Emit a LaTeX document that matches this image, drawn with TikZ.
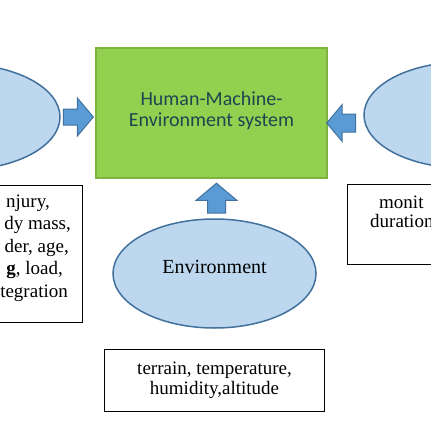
\documentclass[tikz,border=0pt]{standalone}
\usepackage{fontspec}
\setmainfont{Liberation Serif}
\newfontfamily\calibri{Carlito}
\usetikzlibrary{positioning,shapes.geometric,shapes.arrows}
\definecolor{ellfill}{HTML}{BDD7EE}
\definecolor{ellline}{HTML}{41719C}
\definecolor{arrfill}{HTML}{5B9BD5}
\definecolor{sysfill}{HTML}{92D050}
\definecolor{sysline}{HTML}{7EB340}
\definecolor{systext}{HTML}{1C4650}
\tikzset{
  factor/.style={ellipse, draw=ellline, fill=ellfill, line width=1.5bp, inner sep=0pt, minimum width=200bp, minimum height=106bp},
  blockarrow/.style={single arrow, draw=ellline, fill=arrfill, line width=1bp, inner sep=0pt, text height=15bp, text depth=0pt, minimum height=30bp, single arrow head extend=11bp, single arrow tip angle=100},
  listbox/.style={draw=black, line width=1bp, fill=white, inner sep=0pt, align=center, font=\fontsize{19bp}{20bp}\selectfont},
  frag/.style={inner sep=0pt, font=\fontsize{19bp}{20bp}\selectfont}
}

\begin{document}
\begin{tikzpicture}[x=1bp,y=-1bp]
\useasboundingbox (0,0) rectangle (431,431);
\fill[white] (0,0) rectangle (431,431);

\node[draw=sysline, fill=sysfill, line width=1.5bp, minimum width=231bp, minimum height=130bp] (hmes) at (211.5,113) {};
\node[align=center, text=systext, font=\calibri\fontsize{20bp}{21bp}\selectfont] (hmestext) at ([yshift=2.5bp]hmes.center) {Human-Machine-\\Environment system};

\node[factor] (human) at (-40,117) {};
\node[factor] (machine) at (464,115) {};
\node[factor, minimum width=203bp, minimum height=109bp, text depth=13bp, font=\fontsize{20bp}{22bp}\selectfont] (env) at (214.5,273.5) {Environment};

\node[blockarrow] (arrH) at (75,117) {};
\node[blockarrow, rotate=180, text height=17bp, minimum height=29bp, single arrow head extend=9.5bp] (arrM) at (345,123) {};
\node[blockarrow, rotate=90, text height=17bp, single arrow head extend=11.5bp] (arrE) at (216.5,202) {};

\node[listbox, minimum width=150bp, minimum height=137bp] (humanbox) at (7,253.5) {};
\node[listbox, minimum width=150bp, minimum height=80bp] (machinebox) at (423,224) {};
\node[listbox, minimum width=219bp, minimum height=62bp, below=20bp of env] (envbox) {terrain, temperature,\\humidity,altitude};

% cut-off text
\node[frag, anchor=base east] (h1) at (50,207) {njury,};
\node[frag, anchor=base east] (h2) at (71,229.5) {dy mass,};
\node[frag, anchor=base east] (h3) at (69,252) {der, age,};
\node[frag, anchor=base east] (h4) at (63,274.5) {\textbf{g}, load,};
\node[frag, anchor=base east] (h5) at (68,297) {tegration};
\node[frag, anchor=base west] (m1) at (379,208) {monit};
\node[frag, anchor=base west] (m2) at (370,227) {duration};
\end{tikzpicture}
\end{document}
